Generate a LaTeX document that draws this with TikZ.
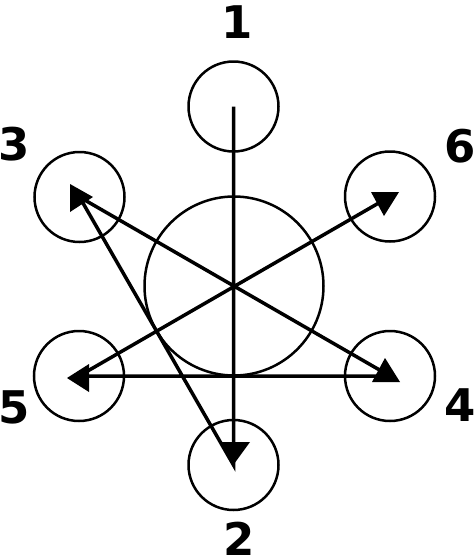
\documentclass[tikz,border=0pt]{standalone}
\usepackage{fontspec}
\newfontfamily\labfont{DejaVu Sans}[BoldFont={DejaVu Sans Bold}]
\begin{document}
\begin{tikzpicture}[x=1pt,y=-1pt,
  ring/.style={draw,circle,line width=2.5pt,minimum size=90pt,inner sep=0pt},
  bigring/.style={draw,circle,line width=2.5pt,minimum size=179pt,inner sep=0pt},
  num/.style={font=\labfont\bfseries\fontsize{45}{45}\selectfont,inner sep=0pt},
  link/.style={line width=3.5pt,line join=miter},
  tip/.style={fill=black}]
\useasboundingbox (0,0) rectangle (474,560);
\node[bigring] (c0) at (234,286) {};
\node[ring] (c1) at (233.5,106.5) {};
\node[ring] (c2) at (233.5,465) {};
\node[ring] (c3) at (79.5,197) {};
\node[ring] (c4) at (390,376) {};
\node[ring] (c5) at (79,376) {};
\node[ring] (c6) at (390,196.5) {};
\node[num] (l1) at (237,22) {1};
\node[num] (l2) at (239,539) {2};
\node[num] (l3) at (14,144) {3};
\node[num] (l4) at (460,405) {4};
\node[num] (l5) at (14,407) {5};
\node[num] (l6) at (460,146) {6};
\draw[link] (c1.center) -- (c2.center) -- (c3.center) -- (c4.center) -- (c5.center) -- (c6.center);
\fill[tip] (220,442) -- (250,442) -- (234,464) -- cycle;
\fill[tip] (70,184) -- (93,197) -- (70,212) -- cycle;
\fill[tip] (385,358) -- (400,382) -- (372,382) -- cycle;
\fill[tip] (67,378) -- (89,364) -- (89,392) -- cycle;
\fill[tip] (371,192) -- (399,192) -- (384,216) -- cycle;
\end{tikzpicture}
\end{document}
